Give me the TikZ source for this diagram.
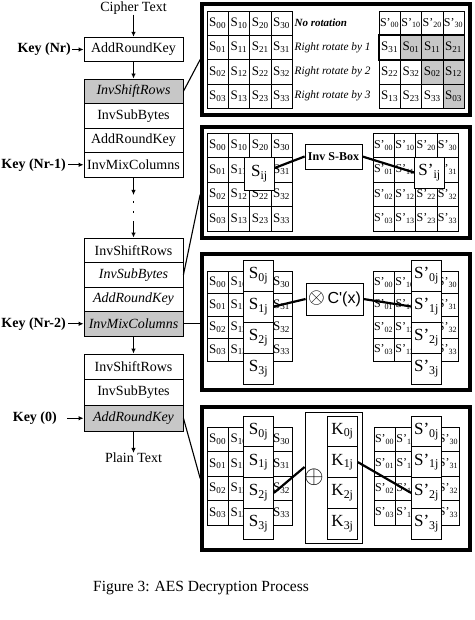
\documentclass[tikz,border=0pt]{standalone}
\usepackage{fontspec}
\setmainfont{Liberation Serif}
\newfontfamily\arialfont{Liberation Sans}
\usetikzlibrary{arrows.meta,calc}

\tikzset{
  stage/.style={draw,line width=.9pt,minimum width=99pt,minimum height=24.5pt,inner sep=0pt,font=\fontsize{14}{16}\selectfont},
  stageshd/.style={stage,fill=black!22},
  itlab/.style={font=\itshape\fontsize{14}{16}\selectfont},
  keylab/.style={anchor=east,inner sep=0pt,font=\bfseries\fontsize{14}{16}\selectfont},
  flow/.style={line width=.9pt,-{Latex[length=5pt,width=4.5pt]}},
  panel/.style={draw,line width=3.6pt,minimum width=268pt,inner sep=0pt},
  cell/.style={draw,line width=.6pt,minimum width=21.3pt,minimum height=24.3pt,inner sep=0pt,font=\fontsize{13}{13}\selectfont},
  pcell/.style={cell,font=\fontsize{12}{12}\selectfont},
  cellshd/.style={cell,fill=black!22},
  bigbox/.style={draw,fill=white,line width=.8pt,minimum width=30pt,minimum height=31pt,inner sep=0pt,font=\fontsize{17}{17}\selectfont},
  link/.style={line width=1.1pt},
  boldlink/.style={line width=2.2pt},
}

\begin{document}
\begin{tikzpicture}[x=1pt,y=-1pt]
  \useasboundingbox (0,0) rectangle (474,620);

  % decryption flow
  \node[inner sep=0pt,font=\fontsize{14}{16}\selectfont] (ct) at (133.5,8) {Cipher Text};
  \node[stage] (ark0) at (133.5,49.5) {AddRoundKey};

  \node[stageshd,itlab] (shift1) at (133.5,91.25) {InvShiftRows};
  \node[stage] (sub1) at (133.5,115.75) {InvSubBytes};
  \node[stage] (ark1) at (133.5,140.25) {AddRoundKey};
  \node[stage] (mix1) at (133.5,164.75) {InvMixColumns};

  \node[stage] (shift2) at (133.5,250.25) {InvShiftRows};
  \node[stage,itlab] (sub2) at (133.5,274.75) {InvSubBytes};
  \node[stage,itlab] (ark2) at (133.5,299.25) {AddRoundKey};
  \node[stageshd,itlab] (mix2) at (133.5,323.75) {InvMixColumns};

  \node[stage,minimum height=25.7pt] (shift3) at (133.5,366.85) {InvShiftRows};
  \node[stage,minimum height=25.7pt] (sub3) at (133.5,392.55) {InvSubBytes};
  \node[stageshd,itlab,minimum height=25.7pt] (ark3) at (133.5,418.25) {AddRoundKey};
  \node[inner sep=0pt,font=\fontsize{14}{16}\selectfont] (pt) at (133.5,458) {Plain Text};

  \coordinate (dotA) at (133.5,195);
  \coordinate (dotB) at (133.5,222);
  \draw[flow] (ct) -- (ark0);
  \draw[flow] (ark0) -- (shift1);
  \draw[flow] (mix1) -- (dotA);
  \draw[line width=.9pt,dash pattern=on 2pt off 8pt,shorten <=6pt] (dotA) -- (dotB);
  \draw[flow] (dotB) -- (shift2);
  \draw[flow] (mix2) -- (shift3);
  \draw[flow] (ark3) -- (pt);

  % round keys
  \node[keylab] (kNr) at (71,49.5) {Key (Nr)};
  \node[keylab] (kNr1) at (66,164.75) {Key (Nr-1)};
  \node[keylab] (kNr2) at (66,323.75) {Key (Nr-2)};
  \node[keylab] (k0) at (57,418.25) {Key (0)};
  \draw[flow,shorten <=1pt] (kNr) -- (ark0);
  \draw[flow,shorten <=2pt] (kNr1) -- (mix1);
  \draw[flow,shorten <=2pt] (kNr2) -- (mix2);
  \draw[flow,shorten <=10pt] (k0) -- (ark3);

  % detail panels
  \node[panel,minimum height=111pt] (p1) at (336,59.5) {};
  \node[panel,minimum height=111pt] (p2) at (336,182.5) {};
  \node[panel,minimum height=136pt] (p3) at (336,322) {};
  \node[panel,minimum height=143pt] (p4) at (336,478.5) {};
  \draw[link] (shift1.east) -- (p1.west);
  \draw[link] (sub2.east) -- (p2.185);
  \draw[link] (mix2.east) -- (mix2.east -| p3.west);
  \draw[link] (ark3.east) -- (p4.west);

  % panel 1: InvShiftRows
  \foreach \r in {0,...,3}{
    \foreach \c in {0,...,3}{
      \node[cell] (a\c\r) at (217.65+21.3*\c,23.15+24.3*\r) {S\textsubscript{\c\r}};
      \pgfmathtruncatemacro\k{mod(\c-\r+4,4)}
      \ifnum\r=0 \def\cellsty{pcell}\def\primemark{'}\else
        \def\primemark{}\ifnum\c<\r \def\cellsty{cell}\else\def\cellsty{cellshd}\fi\fi
      \node[\cellsty] (b\c\r) at (389.65+21.3*\c,23.15+24.3*\r) {S\primemark\textsubscript{\k\r}};
    }
  }
  \draw[line width=1.3pt] (b01.north west) rectangle (b31.south east);
  \node[anchor=west,inner sep=2pt,font=\bfseries\itshape\fontsize{11}{11}\selectfont] (rot0) at (a30.east) {No rotation};
  \foreach \r in {1,2,3}
    \node[anchor=west,inner sep=2pt,font=\itshape\fontsize{11.3}{11}\selectfont] (rot\r) at (a3\r.east) {Right rotate by \r};

  % panel 2: InvSubBytes
  \foreach \r in {0,...,3}{
    \foreach \c in {0,...,3}{
      \node[cell,minimum height=24.5pt] (c\c\r) at (217.65+21.3*\c,145.25+24.5*\r) {S\textsubscript{\c\r}};
      \node[pcell,minimum height=24.5pt] (d\c\r) at (383.65+21.3*\c,145.25+24.5*\r) {S'\textsubscript{\c\r}};
    }
  }
  \node[bigbox,minimum height=33pt] (sij) at (259.5,173.5) {S\textsubscript{ij}};
  \node[draw,fill=white,line width=.8pt,minimum width=57pt,minimum height=25pt,inner sep=0pt,
        font=\bfseries\fontsize{12}{12}\selectfont] (isbox) at (333.5,156.5) {Inv S-Box};
  \node[bigbox] (spij) at (429.5,172.5) {S'\textsubscript{ij}};
  \draw[boldlink] (sij.20) -- (isbox.west);
  \draw[boldlink] (isbox.east) -- (spij.west);

  % panel 3: InvMixColumns
  \foreach \r in {0,...,3}{
    \foreach \c in {0,...,3}{
      \node[cell,minimum height=22.5pt] (e\c\r) at (217.65+21.3*\c,282.25+22.5*\r) {S\textsubscript{\c\r}};
      \node[pcell,minimum height=22.5pt] (f\c\r) at (383.65+21.3*\c,282.25+22.5*\r) {S'\textsubscript{\c\r}};
    }
  }
  \foreach \r in {0,...,3}{
    \node[bigbox] (m\r) at (258.5,275.5+31*\r) {S\textsubscript{\r j}};
    \node[bigbox] (mp\r) at (426.5,275.5+31*\r) {S'\textsubscript{\r j}};
  }
  \node[draw,fill=white,line width=.8pt,minimum width=57pt,minimum height=32pt,inner sep=0pt,
        font=\arialfont\fontsize{16}{16}\selectfont] (cx) at (334.5,299) {\scalebox{1.25}{$\otimes$}\,C'(x)};
  \draw[boldlink] (m1.east) -- (cx.west);
  \draw[boldlink] (cx.east) -- (mp1.west);

  % panel 4: AddRoundKey
  \foreach \r in {0,...,3}{
    \foreach \c in {0,...,3}{
      \node[cell,minimum height=24.5pt] (g\c\r) at (217.65+21.3*\c,439.25+24.5*\r) {S\textsubscript{\c\r}};
      \node[pcell,minimum height=24.5pt] (h\c\r) at (384.65+21.3*\c,439.25+24.5*\r) {S'\textsubscript{\c\r}};
    }
  }
  \node[draw,line width=.8pt,minimum width=57pt,minimum height=131pt,inner sep=0pt] (xor) at (333.5,477.5) {};
  \node[inner sep=0pt,font=\fontsize{24}{24}\selectfont] (oplus) at (314,477) {$\oplus$};
  \foreach \r in {0,...,3}{
    \node[bigbox,minimum height=30.75pt] (x\r) at (258.5,431.4+30.75*\r) {S\textsubscript{\r j}};
    \node[bigbox,minimum height=30.75pt] (kk\r) at (342.5,431.4+30.75*\r) {K\textsubscript{\r j}};
    \node[bigbox,minimum height=30.75pt] (xp\r) at (426.5,431.4+30.75*\r) {S'\textsubscript{\r j}};
  }
  \draw[boldlink] (x2.east) -- (xor.160);
  \draw[boldlink] (kk1.east) -- (xp2.west);

  \node[inner sep=0pt,font=\fontsize{15.5}{18}\selectfont] (cap) at (201,588) {Figure 3: AES Decryption Process};
\end{tikzpicture}
\end{document}
